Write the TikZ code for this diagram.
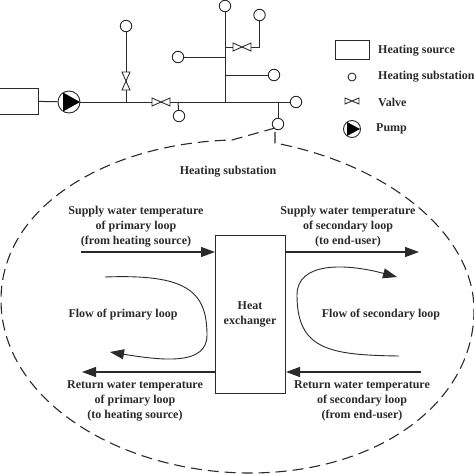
\documentclass[tikz,border=0pt]{standalone}
\usepackage{fontspec}
\setmainfont{Liberation Serif}
\usetikzlibrary{arrows.meta}
\definecolor{ink}{HTML}{2A2A2A}
\tikzset{
  pipe/.style={draw=ink,line width=1pt},
  sub/.style={circle,draw=ink,line width=0.9pt,fill=white,minimum size=11.5pt,inner sep=0pt},
  valveh/.pic={\draw[ink,line width=0.9pt,fill=white] (-9,-4)--(9,4)--(9,-4)--(-9,4)--cycle;},
  valvev/.pic={\draw[ink,line width=0.9pt,fill=white] (-4,-9)--(4,9)--(-4,9)--(4,-9)--cycle;},
  lab/.style={font=\bfseries\fontsize{12}{15}\selectfont,text=ink,align=center,inner sep=0pt},
  leg/.style={lab,anchor=west},
  flow/.style={draw=ink,line width=1.2pt,-{Triangle[length=14pt,width=10pt]}},
  loopline/.style={draw=ink,line width=0.9pt},
}
\begin{document}
\begin{tikzpicture}[x=1pt,y=-1pt]
\useasboundingbox (0,0) rectangle (474,474);
% network
\node[draw=ink,line width=0.9pt,minimum width=40pt,minimum height=26pt,inner sep=0pt] (src) at (18.5,101) {};
\node[circle,draw=ink,line width=0.9pt,minimum size=22pt,inner sep=0pt] (pump) at (69,102) {};
\fill[black] (63,92.5)--(80,102)--(63,111.5)--cycle;
\coordinate (j1) at (126,102);
\coordinate (j2) at (178,102);
\coordinate (j3) at (225,102);
\coordinate (j4) at (278,102);
\coordinate (j5) at (225,47);
\coordinate (j6) at (225,57);
\coordinate (j7) at (225,75);
\coordinate (k1) at (259.5,47);
\node[sub] (s1) at (126,26) {};
\node[sub] (s2) at (179,116) {};
\node[sub] (s3) at (225,6) {};
\node[sub] (s4) at (178,57) {};
\node[sub] (s5) at (274,75) {};
\node[sub] (s6) at (259.5,15) {};
\node[sub] (s7) at (296,102) {};
\node[sub] (s8) at (278,124) {};
\draw[pipe] (src) -- (pump);
\draw[pipe] (pump) -- (s7);
\draw[pipe] (j1) -- (s1);
\draw[pipe] (j2) -- (s2);
\draw[pipe] (j3) -- (s3);
\draw[pipe] (j6) -- (s4);
\draw[pipe] (j7) -- (s5);
\draw[pipe,line width=0.9pt] (j5) -- (k1) -- (s6);
\draw[pipe] (j4) -- (s8);
\pic at (126,81) {valvev};
\pic at (161,102) {valveh};
\pic at (242,47) {valveh};
% legend
\node[draw=ink,line width=0.9pt,minimum width=34pt,minimum height=19pt,inner sep=0pt] (lsrc) at (352,50) {};
\node[circle,draw=ink,line width=0.9pt,minimum size=8pt,inner sep=0pt] (lsub) at (352,77) {};
\draw[ink,line width=0.9pt] (345,98)--(359,104)--(359,98)--(345,104)--cycle;
\node[circle,draw=ink,line width=0.9pt,minimum size=17pt,inner sep=0pt] (lpump) at (352,129) {};
\fill[black] (347,122)--(360,129)--(347,136)--cycle;
\node[leg] (t1) at (378,51) {Heating source};
\node[leg] (t2) at (378,77) {Heating substation};
\node[leg] (t3) at (378,102) {Valve};
\node[leg] (t4) at (376,129) {Pump};
% dashed outline
\draw[ink,line width=1.1pt,dash pattern=on 11pt off 6pt]
 (275,128) -- (232,140) .. controls (110,143) and (1,205) .. (1,300)
 .. controls (1,400) and (120,473) .. (250,473)
 .. controls (375,473) and (474,405) .. (474,310)
 .. controls (474,235) and (390,165) .. (275,143) -- (275,128);
% exchanger
\node[draw=ink,line width=0.9pt,fill=white,minimum width=70pt,minimum height=158pt,inner sep=0pt] (hx) at (250,314) {};
\node[lab] (hxt) at (250,314.5) {Heat\\exchanger};
\coordinate (a1) at (81,252);
\coordinate (a2) at (215,252);
\coordinate (a3) at (215,372);
\coordinate (a4) at (82,372);
\coordinate (b1) at (285,252);
\coordinate (b2) at (419,252);
\coordinate (b3) at (421,372);
\coordinate (b4) at (286,372);
\draw[flow] (a1) -- (a2);
\draw[flow] (a3) -- (a4);
\draw[flow] (b1) -- (b2);
\draw[flow] (b3) -- (b4);
\coordinate (c1) at (105,277);
\coordinate (c2) at (110,352);
\coordinate (d1) at (399,356);
\coordinate (d2) at (397,277);
\draw[loopline,-{Triangle[length=14pt,width=10pt]}] (c1) .. controls (185,274) and (207,290) .. (207,335) .. controls (207,365) and (165,361) .. (c2);
\draw[loopline,-{Triangle[length=14pt,width=10pt]}] (d1) .. controls (330,355) and (297,350) .. (297,295) .. controls (297,262) and (345,263) .. (d2);
% texts
\node[lab] (l0) at (228,172) {Heating substation};
\node[lab] (l1) at (136,227) {Supply water temperature\\of primary loop\\(from heating source)};
\node[lab] (l2) at (348,227) {Supply water temperature\\of secondary loop\\(to end-user)};
\node[lab] (l3) at (135,401) {Return water temperature\\of primary loop\\(to heating source)};
\node[lab] (l4) at (362,401) {Return water temperature\\of secondary loop\\(from end-user)};
\node[lab] (l5) at (123,315) {Flow of primary loop};
\node[lab] (l6) at (381,314.5) {Flow of secondary loop};
\end{tikzpicture}
\end{document}
